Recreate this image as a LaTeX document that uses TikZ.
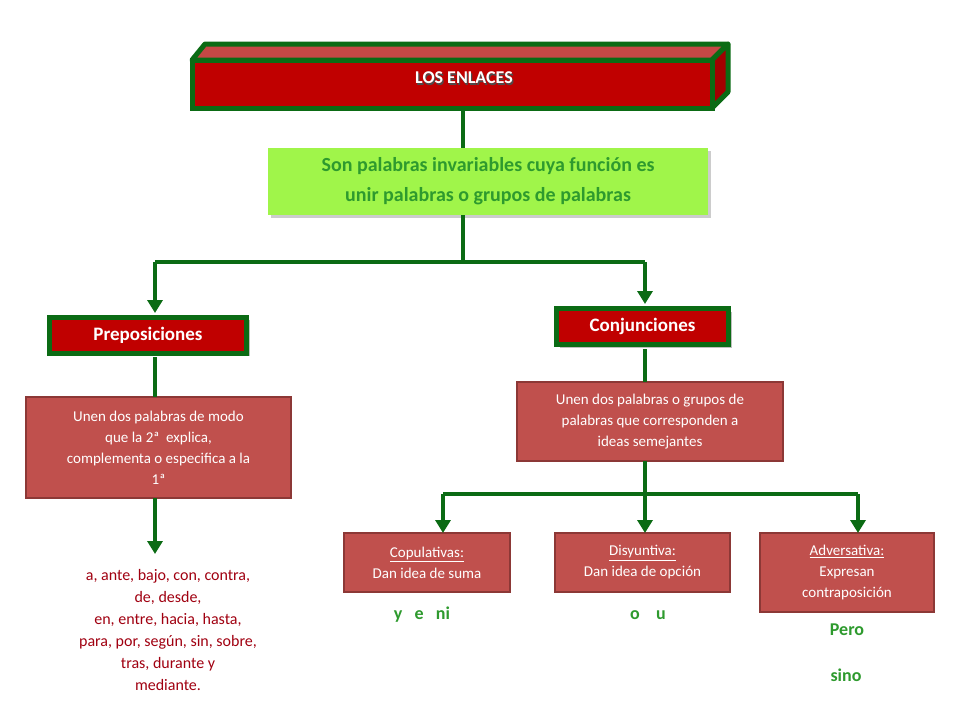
\documentclass[tikz,border=0pt]{standalone}
\usepackage{fontspec}
\setmainfont{Carlito}
\usetikzlibrary{arrows.meta,shadows}
\definecolor{dg}{HTML}{0B6B14}
\definecolor{rd}{HTML}{C00000}
\definecolor{rb}{HTML}{C0504D}
\definecolor{rbd}{HTML}{8C3836}
\definecolor{lg}{HTML}{A0F54A}
\definecolor{tg}{HTML}{2E9A2E}
\definecolor{dr}{HTML}{A00010}
\tikzset{
 conn/.style={dg,line width=4.5pt},
 arr/.style={conn,-{Triangle[width=15pt,length=13pt]}},
 head/.style={draw=dg,line width=5pt,fill=rd,text=white,font=\bfseries\fontsize{19}{22}\selectfont,inner sep=0pt,drop shadow={shadow xshift=3pt,shadow yshift=-3pt,opacity=0.5}},
 rbox/.style={draw=rbd,line width=1.5pt,fill=rb,text=white,align=center,font=\fontsize{15}{21}\selectfont,inner sep=0pt},
 gtxt/.style={text=tg,font=\bfseries\fontsize{18}{22}\selectfont},
}
\begin{document}
\begin{tikzpicture}[x=1pt,y=-1pt]
\useasboundingbox (0,0) rectangle (960,720);
% title 3D box
\fill[rb!90!red,draw=dg,line width=5pt,line join=round] (192,60)--(205,44)--(728,44)--(712,60)--cycle;
\fill[rd!85!black,draw=dg,line width=5pt,line join=round] (712,60)--(728,44)--(728,92)--(712,108)--cycle;
\node[head,minimum width=520pt,minimum height=48pt] (t) at (452,84) {};
\node[text=black!70,font=\bfseries\fontsize{18}{22}\selectfont] at (465.2,79.2) {LOS ENLACES};
\node[text=white,font=\bfseries\fontsize{18}{22}\selectfont] (tt) at (464,78) {LOS ENLACES};
\node[fill=lg,text=tg,align=center,minimum width=440pt,minimum height=67pt,inner sep=0pt,font=\bfseries\fontsize{20}{30}\selectfont,drop shadow={shadow xshift=3pt,shadow yshift=-3pt,opacity=0.4}] (d) at (488,181.5) {Son palabras invariables cuya función es\\unir palabras o grupos de palabras};
\node[head,minimum width=197pt,minimum height=36pt] (p) at (148,335) {Preposiciones};
\node[head,minimum width=172pt,minimum height=36pt] (c) at (642.5,326.5) {Conjunciones};
\node[rbox,minimum width=265pt,minimum height=101pt] (pd) at (158.5,447.5) {Unen dos palabras de modo\\que la 2ª\ \ explica,\\complementa o especifica a la\\1ª};
\node[rbox,minimum width=266pt,minimum height=79pt] (cd) at (650,421.5) {Unen dos palabras o grupos de\\palabras que corresponden a\\ideas semejantes};
\node[rbox,minimum width=166pt,minimum height=59pt] (c1) at (427,562.5) {\underline{Copulativas:}\\Dan idea de suma};
\node[rbox,minimum width=175pt,minimum height=59pt] (c2) at (642.5,562.5) {\underline{Disyuntiva:}\\Dan idea de opción};
\node[rbox,minimum width=174pt,minimum height=79pt] (c3) at (847,572.5) {\underline{Adversativa:}\\Expresan\\contraposición};
\node[text=dr,align=center,font=\fontsize{16}{22}\selectfont] (pl) at (168,630) {a, ante, bajo, con, contra,\\de, desde,\\en, entre, hacia, hasta,\\para, por, según, sin, sobre,\\tras, durante y\\mediante.};
\node[gtxt] (y) at (422,615) {y\ \ \ e\ \ \ ni};
\node[gtxt] (o) at (648,615) {o\ \ \ \ u};
\node[gtxt] (pe) at (847,630) {Pero};
\node[gtxt] (si) at (846,675) {sino};
% connectors
\coordinate (j1) at (463,262);
\coordinate (j1l) at (155,262);
\coordinate (j1r) at (645,262);
\draw[conn] (463,108) -- (463,148);
\draw[conn] (463,215) -- (j1);
\draw[conn] (j1l) -- (j1r);
\draw[arr] (j1l) -- (155,313);
\draw[arr] (j1r) -- (645,304);
\draw[conn] (155,357) -- (155,397);
\draw[arr] (155,498) -- (155,554);
\draw[conn] (645,349) -- (645,382);
\coordinate (j2) at (645,494);
\draw[conn] (645,461) -- (j2);
\draw[conn] (443,494) -- (858,494);
\draw[arr] (443,494) -- (443,533);
\draw[arr] (645,494) -- (645,533);
\draw[arr] (858,494) -- (858,533);
\end{tikzpicture}
\end{document}
